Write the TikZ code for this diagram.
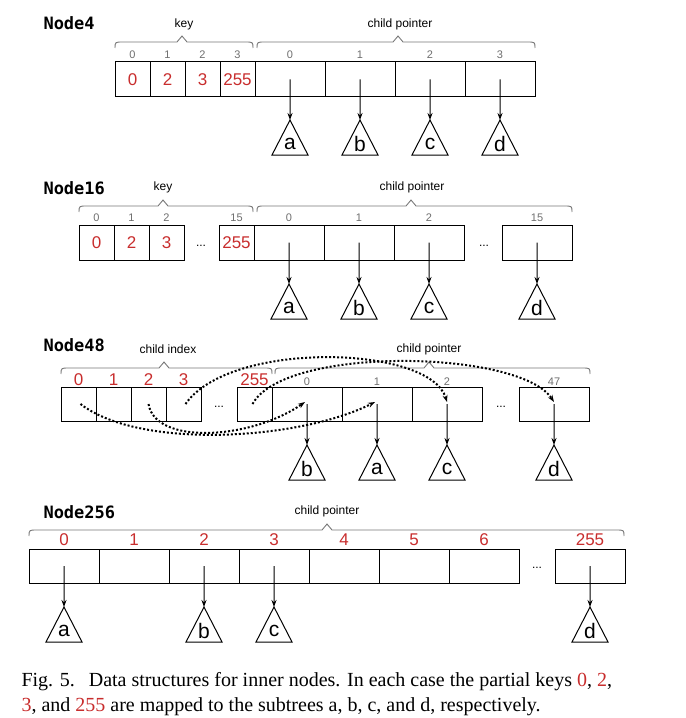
\documentclass[tikz,border=0pt]{standalone}
\usepackage{fontspec}
\setmainfont{Liberation Serif}
\setsansfont{Liberation Sans}
\newfontfamily\monob{DejaVu Sans Mono}
\usetikzlibrary{arrows.meta}
\definecolor{kred}{RGB}{200,45,45}
\definecolor{igray}{RGB}{110,110,110}
\definecolor{bgray}{RGB}{120,120,120}
\tikzset{
  cell/.style={draw,line width=1bp,inner sep=0,outer sep=0,anchor=north west,font=\sffamily\fontsize{17bp}{17bp}\selectfont,text=kred},
  tribox/.style={inner sep=0,outer sep=0,minimum width=36bp,minimum height=35bp,anchor=north},
  trilbl/.style={font=\sffamily\fontsize{21bp}{21bp}\selectfont},
  arr/.style={-{Stealth[length=7bp,width=5bp]},line width=1bp},
  dotarr/.style={-{Stealth[length=7bp,width=5bp]},line width=2bp,dash pattern=on 2bp off 2bp},
  title/.style={font=\monob\bfseries\fontsize{17bp}{17bp}\selectfont,anchor=west},
  lbl/.style={font=\sffamily\fontsize{12bp}{12bp}\selectfont},
  idx/.style={font=\sffamily\fontsize{11bp}{11bp}\selectfont,text=igray},
  rlbl/.style={font=\sffamily\fontsize{17bp}{17bp}\selectfont,text=kred},
  dots/.style={font=\sffamily\fontsize{12bp}{12bp}\selectfont},
  brace/.style={draw=bgray,line width=0.9bp}
}
\newcommand\mybrace[4]{% x1 x2 tip ybottom
  \draw[brace] (#1,#4) .. controls (#1,#4-6) .. (#1+8,#4-6) -- (#3-5,#4-6) -- (#3,#4-12) -- (#3+5,#4-6) -- (#2-8,#4-6) .. controls (#2,#4-6) .. (#2,#4);}
\newcommand\mytri[4]{% name x ytop letter
  \node[tribox] (#1) at (#2,#3) {};
  \draw[line width=1bp] (#1.south west) -- (#1.south east) -- (#1.north) -- cycle;
  \node[trilbl] at ([yshift=-6bp]#1.center) {#4};}
\begin{document}
\begin{tikzpicture}[x=1bp,y=-1bp]
\useasboundingbox (0,0) rectangle (686,718);
% ---------------- Node4
\node[title] (t4) at (40,23) {Node4};
\node[lbl] (l4k) at (184,24) {key};
\node[lbl] (l4c) at (400,24) {child pointer};
\mybrace{115}{253}{182}{48}
\mybrace{257}{535}{398}{48}
\foreach \i/\x/\t in {0/115/0,1/150/2,2/185/3,3/220/255}{
  \node[cell,minimum width=35bp,minimum height=35bp] (n4k\i) at (\x,62) {\t};
  \node[idx] at (\x+17.5,55) {\i};}
\foreach \i/\x in {0/255,1/325,2/395,3/465}{
  \node[cell,minimum width=70bp,minimum height=35bp] (n4c\i) at (\x,62) {};
  \node[idx] at (\x+35,55) {\i};}
\mytri{n4ta}{290}{120}{a}
\mytri{n4tb}{360}{120}{b}
\mytri{n4tc}{430}{120}{c}
\mytri{n4td}{500}{120}{d}
\draw[arr] (n4c0.center) -- (n4ta.north);
\draw[arr] (n4c1.center) -- (n4tb.north);
\draw[arr] (n4c2.center) -- (n4tc.north);
\draw[arr] (n4c3.center) -- (n4td.north);
% ---------------- Node16
\node[title] (t16) at (40,188) {Node16};
\node[lbl] (l16k) at (163,187) {key};
\node[lbl] (l16c) at (412,187) {child pointer};
\mybrace{79}{253}{163}{212}
\mybrace{257}{572}{411}{212}
\foreach \i/\x/\t in {0/79/0,1/114/2,2/149/3}{
  \node[cell,minimum width=35bp,minimum height=35bp] (n16k\i) at (\x,225) {\t};
  \node[idx] at (\x+17.5,218) {\i};}
\node[dots] (d16a) at (201,246) {...};
\node[cell,minimum width=35bp,minimum height=35bp] (n16k15) at (219,225) {255};
\node[idx] at (236.5,218) {15};
\foreach \i/\x in {0/254,1/324,2/394}{
  \node[cell,minimum width=70bp,minimum height=35bp] (n16c\i) at (\x,225) {};
  \node[idx] at (\x+35,218) {\i};}
\node[dots] (d16b) at (484,246) {...};
\node[cell,minimum width=70bp,minimum height=35bp] (n16c15) at (502,225) {};
\node[idx] at (537,218) {15};
\mytri{n16ta}{289}{284}{a}
\mytri{n16tb}{359}{284}{b}
\mytri{n16tc}{429}{284}{c}
\mytri{n16td}{537}{284}{d}
\draw[arr] (n16c0.center) -- (n16ta.north);
\draw[arr] (n16c1.center) -- (n16tb.north);
\draw[arr] (n16c2.center) -- (n16tc.north);
\draw[arr] (n16c15.center) -- (n16td.north);
% ---------------- Node48
\node[title] (t48) at (40,345) {Node48};
\node[lbl] (l48k) at (168,349) {child index};
\node[lbl] (l48c) at (429,349) {child pointer};
\mybrace{61}{272}{164}{374}
\mybrace{275}{590}{429}{374}
\foreach \i/\x/\t in {0/61/0,1/96/1,2/131/2,3/166/3}{
  \node[cell,minimum width=35bp,minimum height=34bp] (n48k\i) at (\x,387) {};
  \node[rlbl] at (\x+17.5,380) {\t};}
\node[dots] (d48a) at (219,407) {...};
\node[cell,minimum width=35bp,minimum height=34bp] (n48k255) at (237,387) {};
\node[rlbl] at (254.5,380) {255};
\foreach \i/\x in {0/272,1/342,2/412}{
  \node[cell,minimum width=70bp,minimum height=34bp] (n48c\i) at (\x,387) {};
  \node[idx] at (\x+35,382) {\i};}
\node[dots] (d48b) at (501,407) {...};
\node[cell,minimum width=70bp,minimum height=34bp] (n48c47) at (519,387) {};
\node[idx] at (554,382) {47};
\mytri{n48tb}{307}{445}{b}
\mytri{n48ta}{377}{445}{a}
\mytri{n48tc}{447}{445}{c}
\mytri{n48td}{554}{445}{d}
\draw[arr] (n48c0.center) -- (n48tb.north);
\draw[arr] (n48c1.center) -- (n48ta.north);
\draw[arr] (n48c2.center) -- (n48tc.north);
\draw[arr] (n48c47.center) -- (n48td.north);
\draw[dotarr] ([xshift=2bp]n48k0.center) .. controls (140,450) and (300,440) .. ([xshift=-2bp,yshift=2bp]n48c1.center);
\draw[dotarr] ([xshift=0bp]n48k2.center) .. controls (155,445) and (250,440) .. ([xshift=-2bp,yshift=2bp]n48c0.center);
\draw[dotarr] ([xshift=2bp]n48k3.center) .. controls (230,340) and (430,345) .. ([yshift=2bp]n48c2.center);
\draw[dotarr] ([xshift=-2bp]n48k255.center) .. controls (285,345) and (520,350) .. ([yshift=2bp]n48c47.center);
% ---------------- Node256
\node[title] (t256) at (40,512) {Node256};
\node[lbl] (l256c) at (327,511) {child pointer};
\mybrace{29}{624}{327}{536}
\foreach \i/\x in {0/29,1/99,2/169,3/239,4/309,5/379,6/449}{
  \node[cell,minimum width=70bp,minimum height=34bp] (n256c\i) at (\x,549) {};
  \node[rlbl] at (\x+35,540) {\i};}
\node[dots] (d256) at (537,568) {...};
\node[cell,minimum width=70bp,minimum height=34bp] (n256c255) at (555,549) {};
\node[rlbl] at (590,540) {255};
\mytri{n256ta}{64}{607}{a}
\mytri{n256tb}{204}{607}{b}
\mytri{n256tc}{274}{607}{c}
\mytri{n256td}{590}{607}{d}
\draw[arr] (n256c0.center) -- (n256ta.north);
\draw[arr] (n256c2.center) -- (n256tb.north);
\draw[arr] (n256c3.center) -- (n256tc.north);
\draw[arr] (n256c255.center) -- (n256td.north);
% ---------------- caption
\node[anchor=west,font=\fontsize{20bp}{20bp}\selectfont] (cap1) at (18,682) {Fig. 5.\hspace{14bp}Data structures for inner nodes. In each case the partial keys \textcolor{kred}{0}, \textcolor{kred}{2},};
\node[anchor=west,font=\fontsize{20bp}{20bp}\selectfont] (cap2) at (18,707) {\textcolor{kred}{3}, and \textcolor{kred}{255} are mapped to the subtrees a, b, c, and d, respectively.};
\end{tikzpicture}
\end{document}
